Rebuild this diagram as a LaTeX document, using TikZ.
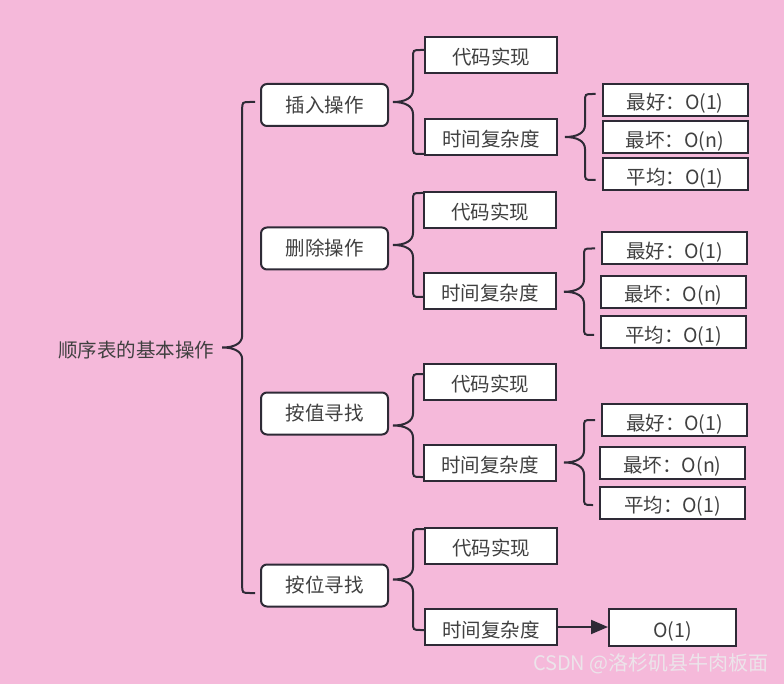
\documentclass[tikz,border=0pt]{standalone}
\usepackage{fontspec}
\setmainfont{Noto Sans CJK SC}
\usetikzlibrary{calc,arrows.meta}
\definecolor{bgpink}{RGB}{245,185,218}
\definecolor{lineink}{RGB}{46,42,54}
\definecolor{txtink}{RGB}{64,64,64}
\definecolor{wmark}{RGB}{236,228,234}
\tikzset{
  conn/.style={draw=lineink, line width=2pt},
  txt/.style={text=txtink, font=\fontsize{19.5}{23}\selectfont},
  lone/.style={txt, draw=lineink, line width=2pt, fill=white, rounded corners=6pt,
    minimum width=127pt, minimum height=42pt, inner sep=0pt},
  ltwo/.style={txt, draw=lineink, line width=2pt, fill=white,
    minimum width=132pt, minimum height=36pt, inner sep=0pt,
    text height=20pt, text depth=0pt},
  lthree/.style={txt, draw=lineink, line width=2pt, fill=white,
    minimum width=145pt, minimum height=32pt, inner sep=0pt,
    text height=20pt, text depth=0pt},
}
% #1 parent, #2 top child, #3 bottom child, #4/#5 arm y offsets, #6 tip gap, #7 arm gap
\newcommand\mybrace[7]{%
  \draw[conn] let \p1=(#1.east), \p2=($(#2.west)+(-#7,#4)$), \p3=($(#3.west)+(-#7,#5)$),
    \n1={\x1+#6+20}, \n2={(\y2+\y3)/2}, \n3={\x1+#6} in
    (\p2) -- (\n1+8,\y2) .. controls (\n1,\y2) .. (\n1,\y2-8)
    -- (\n1,\n2+12) .. controls (\n1,\n2+4) and (\n1-8,\n2) .. (\n3,\n2)
    .. controls (\n1-8,\n2) and (\n1,\n2-4) .. (\n1,\n2-12)
    -- (\n1,\y3+8) .. controls (\n1,\y3) .. (\n1+8,\y3) -- (\p3);
}
\begin{document}
\begin{tikzpicture}[x=1pt,y=1pt]
\fill[bgpink] (0,0) rectangle (784,-684);
\useasboundingbox (0,0) rectangle (784,-684);

\node[txt, inner sep=0pt] (root) at (136,-350) {顺序表的基本操作};

\node[lone] (ins) at (324.5,-105) {插入操作};
\node[lone] (del) at (324.5,-248.5) {删除操作};
\node[lone] (val) at (324.5,-413.5) {按值寻找};
\node[lone] (pos) at (324.5,-585.5) {按位寻找};

\node[ltwo] (c1) at (491,-55) {代码实现};
\node[ltwo] (t1) at (491,-137) {时间复杂度};
\node[ltwo] (c2) at (490,-210) {代码实现};
\node[ltwo] (t2) at (490,-291) {时间复杂度};
\node[ltwo] (c3) at (490,-381.5) {代码实现};
\node[ltwo] (t3) at (490,-462.5) {时间复杂度};
\node[ltwo] (c4) at (491,-545.5) {代码实现};
\node[ltwo] (t4) at (491,-627) {时间复杂度};

\node[lthree] (b1) at (675,-100) {最好：O(1)};
\node[lthree] (w1) at (675,-137.5) {最坏：O(n)};
\node[lthree] (a1) at (675,-174.5) {平均：O(1)};
\node[lthree] (b2) at (674.5,-248.5) {最好：O(1)};
\node[lthree] (w2) at (673.5,-292) {最坏：O(n)};
\node[lthree] (a2) at (673.5,-332) {平均：O(1)};
\node[lthree] (b3) at (674.5,-420) {最好：O(1)};
\node[lthree] (w3) at (672.5,-462.5) {最坏：O(n)};
\node[lthree] (a3) at (672.5,-502.5) {平均：O(1)};

\node[ltwo, minimum width=127pt, minimum height=37pt] (o4) at (672.5,-627.5) {O(1)};

\mybrace{root}{ins}{pos}{3}{-7.5}{8}{5}
\mybrace{ins}{c1}{t1}{5}{-17}{4}{0}
\mybrace{del}{c2}{t2}{17}{-6}{4}{0}
\mybrace{val}{c3}{t3}{7.5}{-14.5}{4}{0}
\mybrace{pos}{c4}{t4}{16.5}{-3}{4}{0}
\mybrace{t1}{b1}{a1}{6}{-5.5}{7}{6}
\mybrace{t2}{b2}{a2}{0}{-3}{7}{6}
\mybrace{t3}{b3}{a3}{0}{-2.5}{7}{6}

\draw[conn, -{Triangle[length=17pt,width=14pt]}] (t4.east) -- (t4.east -| o4.west);

\node[anchor=east, inner sep=0pt, text=wmark, font=\fontsize{20}{23}\selectfont] (wm) at (769,-664) {CSDN @洛杉矶县牛肉板面};
\end{tikzpicture}
\end{document}
